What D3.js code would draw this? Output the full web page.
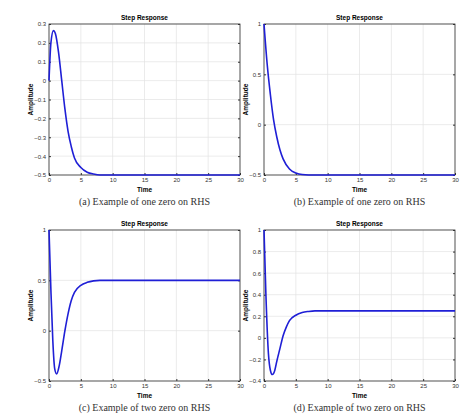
<!DOCTYPE html>
<html>
<head>
<meta charset="utf-8">
<script src="https://cdn.jsdelivr.net/npm/d3@7"></script>
<style>
body { margin: 0; background: #fff; }
svg text { font-family: "Liberation Sans", Arial, sans-serif; }
.cap { font-family: "Liberation Serif", "DejaVu Serif", serif; }
</style>
</head>
<body>
<svg id="chart" width="474" height="420"></svg>
<script>
// values: [time, amplitude]
var oneZeroA = [[0,0],[0.3,0.2],[0.7,0.265],[1,0.25],[1.5,0.15],[2,0],[2.5,-0.15],[3,-0.27],[3.5,-0.35],[4,-0.41],[5,-0.46],[6,-0.485],[7,-0.495],[8,-0.5],[10,-0.5],[30,-0.5]];
var oneZeroB = [[0,1],[0.5,0.6],[1,0.3],[1.5,0.05],[2,-0.12],[2.5,-0.25],[3,-0.34],[4,-0.44],[5,-0.48],[6,-0.495],[8,-0.5],[30,-0.5]];
var twoZeroC = [[0,1],[0.3,0.4],[0.6,-0.1],[0.9,-0.38],[1.2,-0.43],[1.6,-0.35],[2,-0.2],[2.5,0],[3,0.17],[3.5,0.3],[4,0.38],[5,0.45],[6,0.48],[7,0.495],[8,0.5],[30,0.5]];
var twoZeroD = [[0,1],[0.3,0.4],[0.7,-0.15],[1,-0.3],[1.3,-0.34],[1.7,-0.3],[2,-0.22],[2.5,-0.1],[3,0.02],[3.5,0.1],[4,0.16],[5,0.21],[6,0.235],[7,0.245],[8,0.25],[30,0.25]];

var timeTicks = [0,5,10,15,20,25,30];
var ticksA = [-0.5,-0.4,-0.3,-0.2,-0.1,0,0.1,0.2,0.3];
var ticksB = [-0.5,0,0.5,1];
var ticksD = [-0.4,-0.2,0,0.2,0.4,0.6,0.8,1];

var panels = [
	{data: oneZeroA, y: [-0.5,0.3], ticks: ticksA, x0: 49, y0: 24, cap: '(a) Example of one zero on RHS'},
	{data: oneZeroB, y: [-0.5,1], ticks: ticksB, x0: 264, y0: 24, cap: '(b) Example of one zero on RHS'},
	{data: twoZeroC, y: [-0.5,1], ticks: ticksB, x0: 49, y0: 230, cap: '(c) Example of two zero on RHS'},
	{data: twoZeroD, y: [-0.4,1], ticks: ticksD, x0: 264, y0: 230, cap: '(d) Example of two zero on RHS'}
];

var W = 191, H = 151;
var svg = d3.select('#chart');

panels.forEach(function(p) {
	var g = svg.append('g').attr('transform', 'translate(' + p.x0 + ',' + p.y0 + ')');
	var x = d3.scaleLinear().domain([0, 30]).range([0, W]);
	var y = d3.scaleLinear().domain(p.y).range([H, 0]);

	// grid
	g.selectAll('.gx').data(timeTicks).enter().append('line')
		.attr('x1', x).attr('x2', x).attr('y1', 0).attr('y2', H)
		.attr('stroke', '#e2e2e2').attr('stroke-width', 0.7);
	g.selectAll('.gy').data(p.ticks).enter().append('line')
		.attr('y1', y).attr('y2', y).attr('x1', 0).attr('x2', W)
		.attr('stroke', '#e2e2e2').attr('stroke-width', 0.7);

	var xa = g.append('g').attr('transform', 'translate(0,' + H + ')')
		.call(d3.axisBottom(x).tickValues(timeTicks).tickSizeInner(-2).tickSizeOuter(0).tickPadding(3));
	var ya = g.append('g')
		.call(d3.axisLeft(y).tickValues(p.ticks).tickFormat(d3.format('')).tickSizeInner(-2).tickSizeOuter(0).tickPadding(3));
	g.append('g').attr('transform', 'translate(0,' + H + ')')
		.call(d3.axisTop(x).tickValues(timeTicks).tickSizeInner(0).tickSizeOuter(0).tickFormat(''));
	g.append('g').attr('transform', 'translate(' + W + ',0)')
		.call(d3.axisLeft(y).tickValues(p.ticks).tickSizeInner(2).tickSizeOuter(0).tickFormat(''));
	g.selectAll('.domain').remove();
	g.selectAll('.tick text').attr('font-size', 6).attr('fill', '#333');
	g.selectAll('.tick line').attr('stroke', '#333');

	g.append('rect').attr('width', W).attr('height', H)
		.attr('fill', 'none').attr('stroke', '#333').attr('stroke-width', 0.8);

	g.append('path').datum(p.data)
		.attr('fill', 'none').attr('stroke', '#1f1fd6').attr('stroke-width', 1.6)
		.attr('d', d3.line().x(function(d) { return x(d[0]); }).y(function(d) { return y(d[1]); }).curve(d3.curveMonotoneX));

	g.append('text').attr('x', W / 2).attr('y', -4).attr('text-anchor', 'middle')
		.attr('font-size', 6.5).attr('font-weight', 'bold').text('Step Response');
	g.append('text').attr('x', W / 2).attr('y', H + 17).attr('text-anchor', 'middle')
		.attr('font-size', 6.5).attr('font-weight', 'bold').text('Time');
	g.append('text').attr('transform', 'translate(-16,' + (H / 2) + ') rotate(-90)').attr('text-anchor', 'middle')
		.attr('font-size', 6.5).attr('font-weight', 'bold').text('Amplitude');
	g.append('text').attr('class', 'cap').attr('x', W / 2).attr('y', H + 30).attr('text-anchor', 'middle')
		.attr('font-size', 10).attr('fill', '#333').text(p.cap);
});
</script>
</body>
</html>
